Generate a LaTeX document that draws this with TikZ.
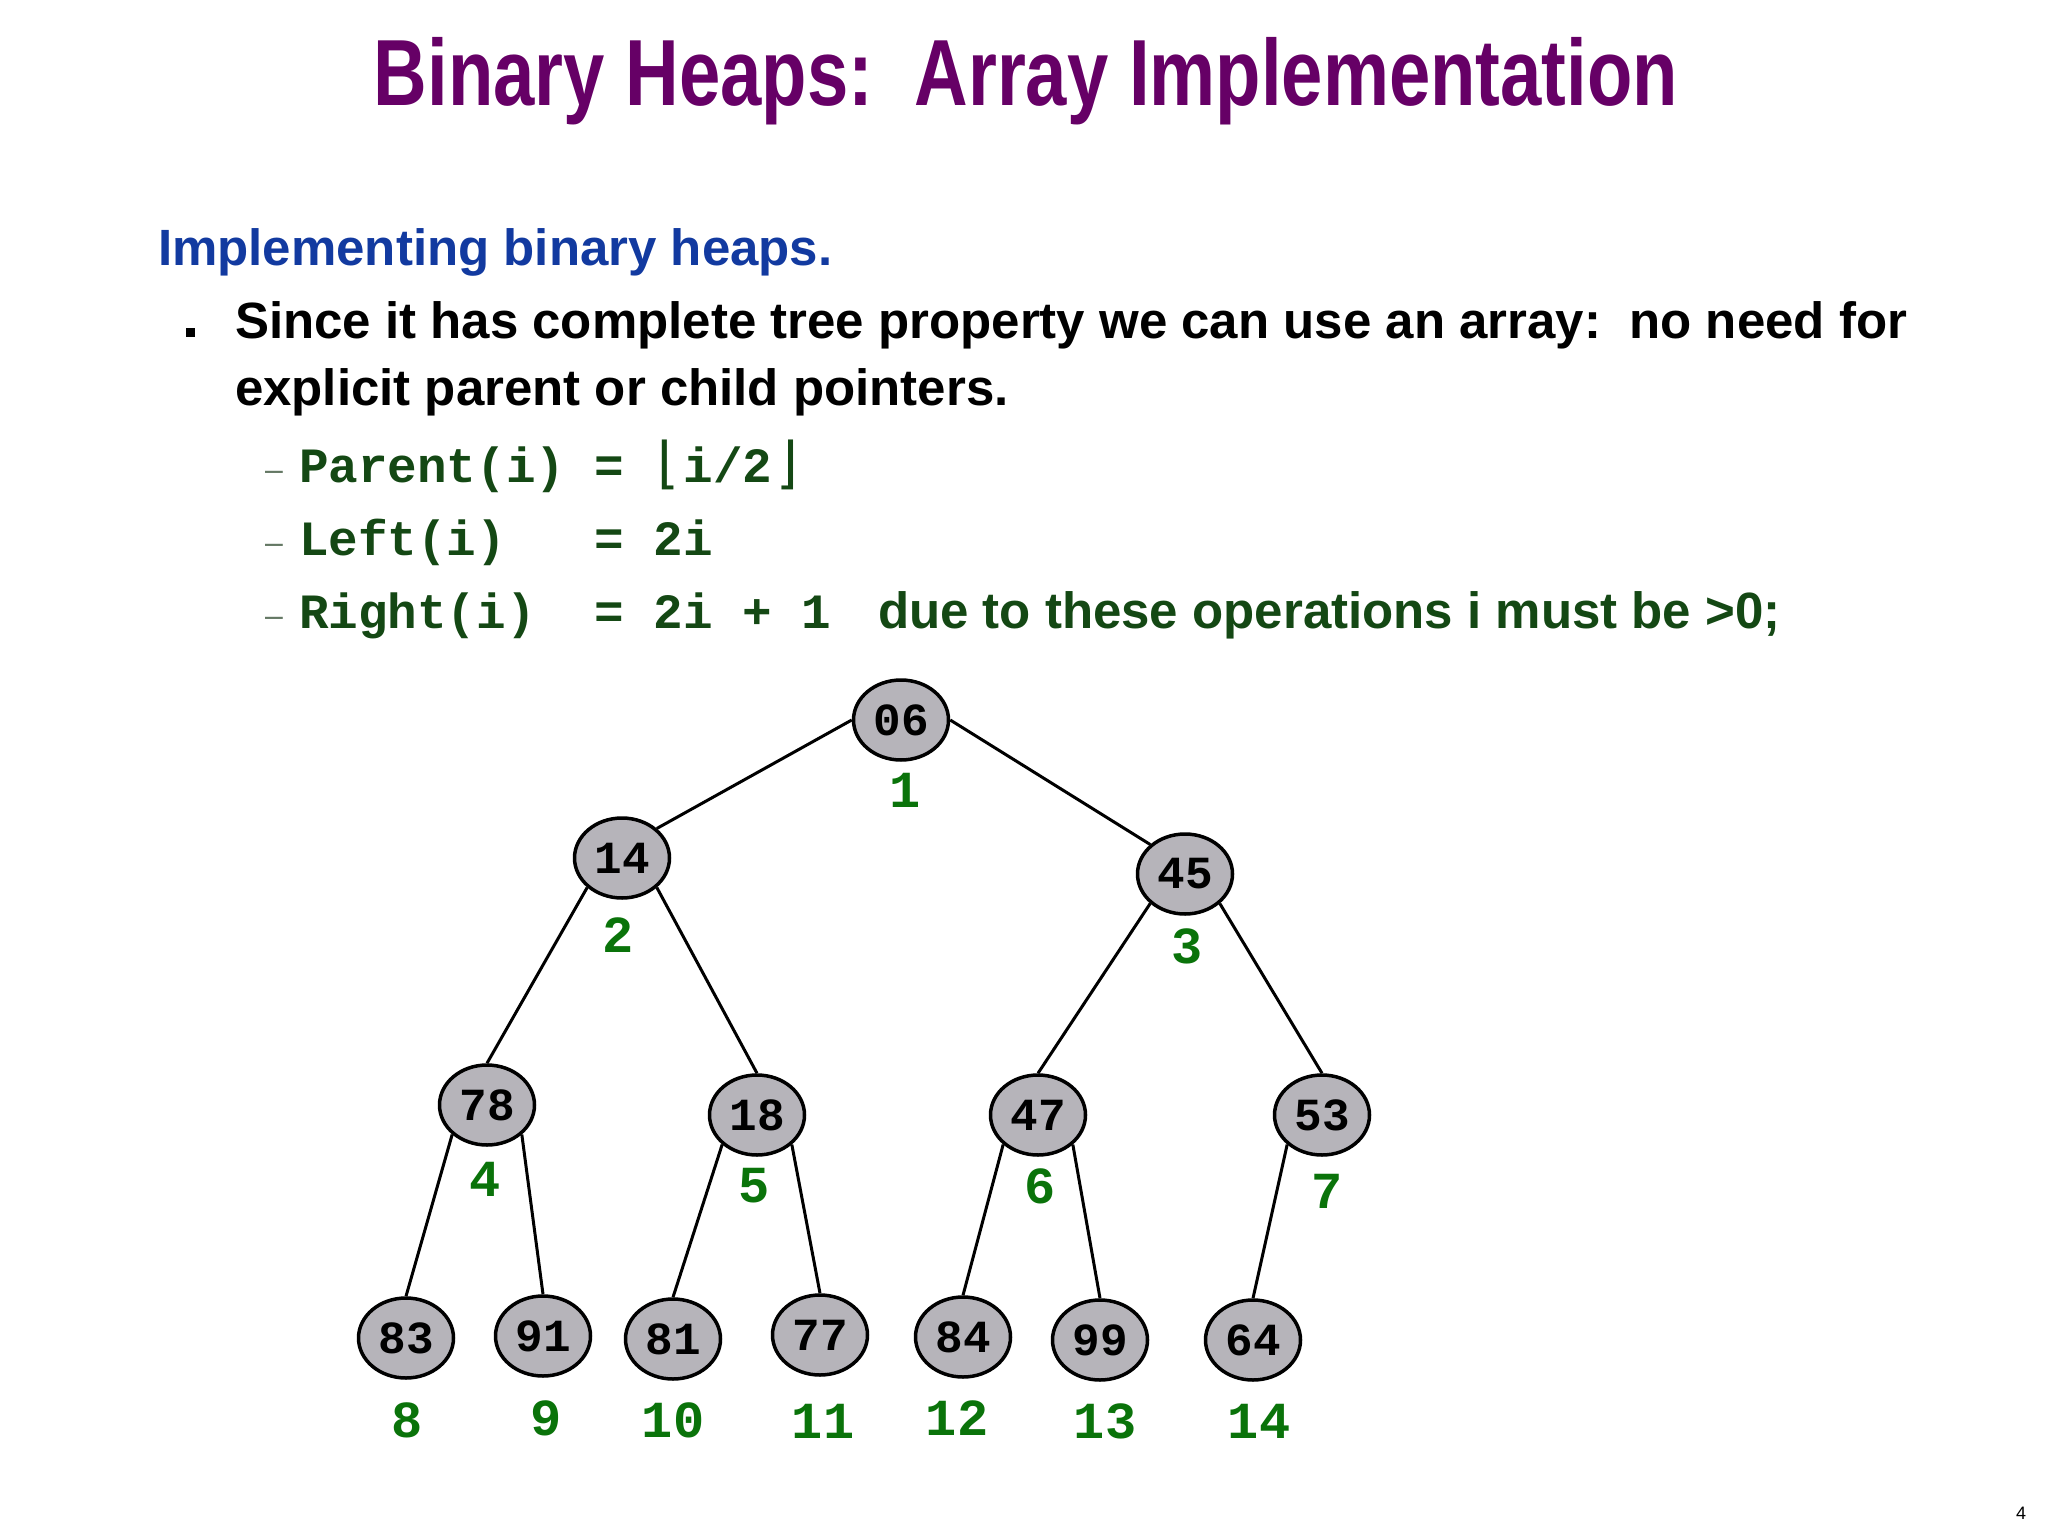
\documentclass[tikz,border=0pt]{standalone}
\usepackage{fontspec}
\usetikzlibrary{shapes.geometric}
\setmainfont{Liberation Sans}
\newfontfamily\titlefont[FakeStretch=0.79]{Liberation Sans}
\newfontfamily\monofont{Liberation Mono}
\newfontfamily\bracketfont{DejaVu Sans}
\definecolor{titlepurple}{RGB}{102,0,102}
\definecolor{subblue}{RGB}{18,58,160}
\definecolor{itemgreen}{RGB}{20,72,20}
\definecolor{idxgreen}{RGB}{10,115,10}
\definecolor{dashgray}{RGB}{100,120,100}
\definecolor{nodegray}{RGB}{182,180,186}
\newcommand{\flbr}[1]{\makebox[0.6em]{{\bracketfont\mdseries\fontsize{56}{56}\selectfont #1}}}
\tikzset{
  txt/.style={inner sep=0pt, outer sep=0pt},
  heapnode/.style={ellipse, draw=black, line width=3.5pt, fill=nodegray,
    minimum width=95pt, minimum height=80pt, inner sep=0pt,
    font=\monofont\bfseries\fontsize{46}{46}\selectfont},
  idx/.style={txt, text=idxgreen, font=\monofont\bfseries\fontsize{52}{52}\selectfont},
  edge/.style={line width=3pt, black},
  body/.style={txt, anchor=base west, font=\bfseries\fontsize{51}{60}\selectfont},
  mono/.style={txt, anchor=base west, text=itemgreen, font=\monofont\bfseries\fontsize{49.3}{55}\selectfont},
  dashmark/.style={txt, anchor=base west, text=dashgray, font=\fontsize{32}{32}\selectfont}
}
\begin{document}
\begin{tikzpicture}[x=1pt,y=-1pt]
\useasboundingbox[fill=white] (0,0) rectangle (2048,1536);
% title
\node[txt, anchor=base, text=titlepurple, font=\titlefont\bfseries\fontsize{94}{100}\selectfont] (title) at (1026,106) {Binary Heaps:\ \ Array Implementation};
% subtitle
\node[body, text=subblue] (sub) at (158,265) {Implementing binary heaps.};
% bullet
\node[fill=black, minimum size=9pt, inner sep=0pt] (bullet) at (190,332) {};
\node[body] (line1) at (235,338) {Since it has complete tree property we can use an array:\ \ no need for};
\node[body] (line2) at (235,405) {explicit parent or child pointers.};
% sub items
\node[dashmark] (d1) at (265,480) {–};
\node[dashmark] (d2) at (265,553) {–};
\node[dashmark] (d3) at (265,626) {–};
\node[mono] (parent) at (299,482) {Parent(i)\ =\ \flbr{⌊}i/2\flbr{⌋}};
\node[mono] (left) at (299,555) {Left(i)\ \ \ =\ 2i};
\node[mono] (right) at (299,628) {Right(i)\ \ =\ 2i\ +\ 1};
\node[body, text=itemgreen] (due) at (878,628) {due to these operations i must be >0;};
% tree
\node[heapnode] (n1) at (901,720) {06};
\node[heapnode] (n2) at (622,858) {14};
\node[heapnode] (n3) at (1185,874) {45};
\node[heapnode] (n4) at (487,1105) {78};
\node[heapnode] (n5) at (757,1115) {18};
\node[heapnode] (n6) at (1038,1115) {47};
\node[heapnode] (n7) at (1322,1115) {53};
\node[heapnode] (n8) at (406,1338) {83};
\node[heapnode] (n9) at (543,1336) {91};
\node[heapnode] (n10) at (673,1339) {81};
\node[heapnode] (n11) at (820,1335) {77};
\node[heapnode] (n12) at (963,1337) {84};
\node[heapnode] (n13) at (1100,1340) {99};
\node[heapnode] (n14) at (1253,1340) {64};
\draw[edge] (n1.west) -- (n2.north east);
\draw[edge] (n1.east) -- (n3.north west);
\draw[edge] (n2.south west) -- (n4.north);
\draw[edge] (n2.south east) -- (n5.north);
\draw[edge] (n3.south west) -- (n6.north);
\draw[edge] (n3.south east) -- (n7.north);
\draw[edge] (n4.south west) -- (n8.north);
\draw[edge] (n4.south east) -- (n9.north);
\draw[edge] (n5.south west) -- (n10.north);
\draw[edge] (n5.south east) -- (n11.north);
\draw[edge] (n6.south west) -- (n12.north);
\draw[edge] (n6.south east) -- (n13.north);
\draw[edge] (n7.south west) -- (n14.north);
% indices
\node[idx] (i1) at (905,790) {1};
\node[idx] (i2) at (618,935) {2};
\node[idx] (i3) at (1187,946) {3};
\node[idx] (i4) at (485,1179) {4};
\node[idx] (i5) at (754,1186) {5};
\node[idx] (i6) at (1040,1186) {6};
\node[idx] (i7) at (1327,1191) {7};
\node[idx] (i8) at (407,1420) {8};
\node[idx] (i9) at (546,1418) {9};
\node[idx] (i10) at (673,1420) {10};
\node[idx] (i11) at (823,1421) {11};
\node[idx] (i12) at (957,1418) {12};
\node[idx] (i13) at (1105,1421) {13};
\node[idx] (i14) at (1259,1421) {14};
% page number
\node[txt, anchor=base, font=\fontsize{18}{18}\selectfont] (pnum) at (2021,1519) {4};
\end{tikzpicture}
\end{document}
